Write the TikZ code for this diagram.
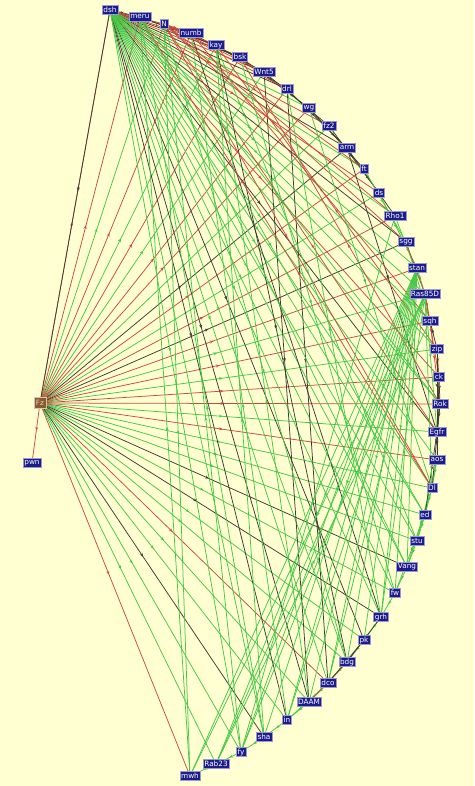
\documentclass[tikz,border=0pt]{standalone}
\usepackage{fontspec}
\setmainfont{DejaVu Sans}
\usetikzlibrary{decorations.markings,arrows.meta}
\definecolor{bgc}{HTML}{FFFFD2}
\definecolor{eg}{HTML}{46C846}
\definecolor{er}{HTML}{CC4A3E}
\definecolor{ek}{HTML}{3C3C32}
\definecolor{nb}{HTML}{1C1C8C}
\definecolor{hubc}{HTML}{8A5A2C}
\pgfdeclarelayer{bg}
\pgfdeclarelayer{edges}
\pgfsetlayers{bg,edges,main}
\tikzset{
  gnode/.style={fill=nb, text=white, draw=white!55!nb, line width=0.3pt,
    inner xsep=1.3pt, inner ysep=1pt, font=\fontsize{7.3}{8}\selectfont, minimum height=9pt},
  hubnode/.style={fill=hubc, text=hubc!25!white, draw=hubc!35!white, line width=0.4pt,
    inner xsep=2pt, inner ysep=1.5pt, font=\fontsize{7.3}{8}\selectfont, minimum height=11pt},
  emark/.style={postaction={decorate}, decoration={markings,
    mark=at position 0.46 with {\arrow{Stealth[length=3.6pt,width=3pt]}}}},
  eG/.style={color=eg, line width=0.75pt, emark},
  eR/.style={color=er, line width=0.75pt, emark},
  eK/.style={color=ek, line width=0.75pt, emark},
}
\begin{document}
\begin{tikzpicture}[x=1pt,y=-1pt]
\begin{pgfonlayer}{bg}
\fill[bgc] (0,0) rectangle (474,786);
\end{pgfonlayer}
\useasboundingbox (0,0) rectangle (474,786);
% nodes
\foreach \n/\x/\y in {dsh/110/10, meru/140/17, N/164/24, numb/191/33, kay/216/45,
  bsk/240/57, Wnt5/264/72, drl/287/89, wg/309/108, fz2/329/126, arm/347/148,
  ft/364/169, ds/379/193, Rho1/395/216, sgg/406/242, stan/417/268, Ras85D/425/294,
  sqh/430/321, zip/437/349, ck/439/377, Rok/440/404, Egfr/437/432, aos/437/460,
  Dl/432/488, ed/425/515, stu/417/541, Vang/407/567, fw/395/593, grh/381/617,
  pk/364/640, bdg/347/662, dco/328/683, DAAM/309/702, in/287/720, sha/264/737,
  fy/241/752, Rab23/216/764, mwh/190/776, pwn/32/463}
  {\node[gnode] (\n) at (\x,\y) {\n};}
\node[hubnode] (Fz) at (40,403) {Fz};
% edges
\begin{pgfonlayer}{edges}
% hub Fz
\foreach \t in {N,kay,Wnt5,fz2,ds,Ras85D,zip,Egfr,Dl,ed,stu,fw,pk,bdg,DAAM,in,fy,Rab23}
  {\draw[eG] (Fz.center) -- (\t.center);}
\foreach \t in {dsh,meru,numb,bsk,drl,wg,ft,Rho1,stan,sqh,ck,Rok,aos,dco,mwh,pwn}
  {\draw[eR] (Fz.center) -- (\t.center);}
\foreach \t in {arm,sgg,Vang,grh,sha}
  {\draw[eK] (Fz.center) -- (\t.center);}
% dsh
\foreach \t in {meru,numb,bsk,drl,arm,sgg,Egfr,pk,DAAM,in,Fz}
  {\draw[eK] (dsh.center) -- (\t.center);}
\foreach \t in {N,kay,Wnt5,fz2,ds,ck}
  {\draw[eR] (dsh.center) -- (\t.center);}
\foreach \t in {wg,ft,Rho1,stan,Ras85D,sqh,zip,Rok,aos,Dl,ed,stu,Vang,fw,grh,bdg,dco,sha,fy}
  {\draw[eG] (dsh.center) -- (\t.center);}
% top chain and long links
\foreach \a/\b in {meru/kay, N/bsk, numb/Wnt5, kay/drl, bsk/wg, Wnt5/fz2, drl/arm, wg/ft, fz2/ds, arm/Rho1,
  Wnt5/DAAM, arm/Egfr, drl/dco, kay/bdg, numb/grh}
  {\draw[eK] (\a.center) -- (\b.center);}
\foreach \a/\b in {N/numb, N/kay, N/Wnt5, N/drl, N/ft, N/Rho1, N/sgg, N/Dl,
  Egfr/N, sqh/numb, zip/kay, Dl/meru, Rok/bsk}
  {\draw[eR] (\a.center) -- (\b.center);}
\foreach \a/\b in {ft/sgg, ds/stan, Rho1/Ras85D, sgg/sqh,
  meru/Rok, meru/ed, meru/Vang, kay/stu, bsk/fw, wg/Dl, drl/grh}
  {\draw[eG] (\a.center) -- (\b.center);}
% right chain
\foreach \a/\b in {stan/Ras85D, aos/Dl, Dl/ed, ed/stu, stu/Vang, Vang/fw, fw/grh, grh/pk, pk/bdg,
  bdg/dco, dco/DAAM, DAAM/in, in/sha, sha/fy, fy/Rab23, Rab23/mwh, aos/stu, Dl/Vang, ed/fw, dco/in}
  {\draw[eG] (\a.center) -- (\b.center);}
\foreach \a/\b in {Ras85D/sqh, zip/ck, sgg/Ras85D, Ras85D/ck, sqh/Rok, bdg/DAAM}
  {\draw[eR] (\a.center) -- (\b.center);}
\foreach \a/\b in {sqh/zip, ck/Rok, Rok/Egfr, Egfr/aos, zip/Egfr, ck/aos, Rok/Dl, Egfr/ed, grh/bdg, pk/dco}
  {\draw[eK] (\a.center) -- (\b.center);}
% fans from stan and Ras85D
\foreach \t in {Vang,fw,grh,pk,bdg,dco,DAAM,in,sha,fy,Rab23,mwh}
  {\draw[eG] (stan.center) -- (\t.center);}
\foreach \t in {grh,dco,in,fy,mwh,Egfr,Dl}
  {\draw[eG] (Ras85D.center) -- (\t.center);}
% lower to upper
\foreach \a/\b in {mwh/meru, mwh/N, Rab23/Ras85D, Rab23/sqh, fy/N, fy/Rho1, sha/meru, sha/kay,
  in/numb, DAAM/kay, bdg/N}
  {\draw[eG] (\a.center) -- (\b.center);}
\end{pgfonlayer}
\end{tikzpicture}
\end{document}
